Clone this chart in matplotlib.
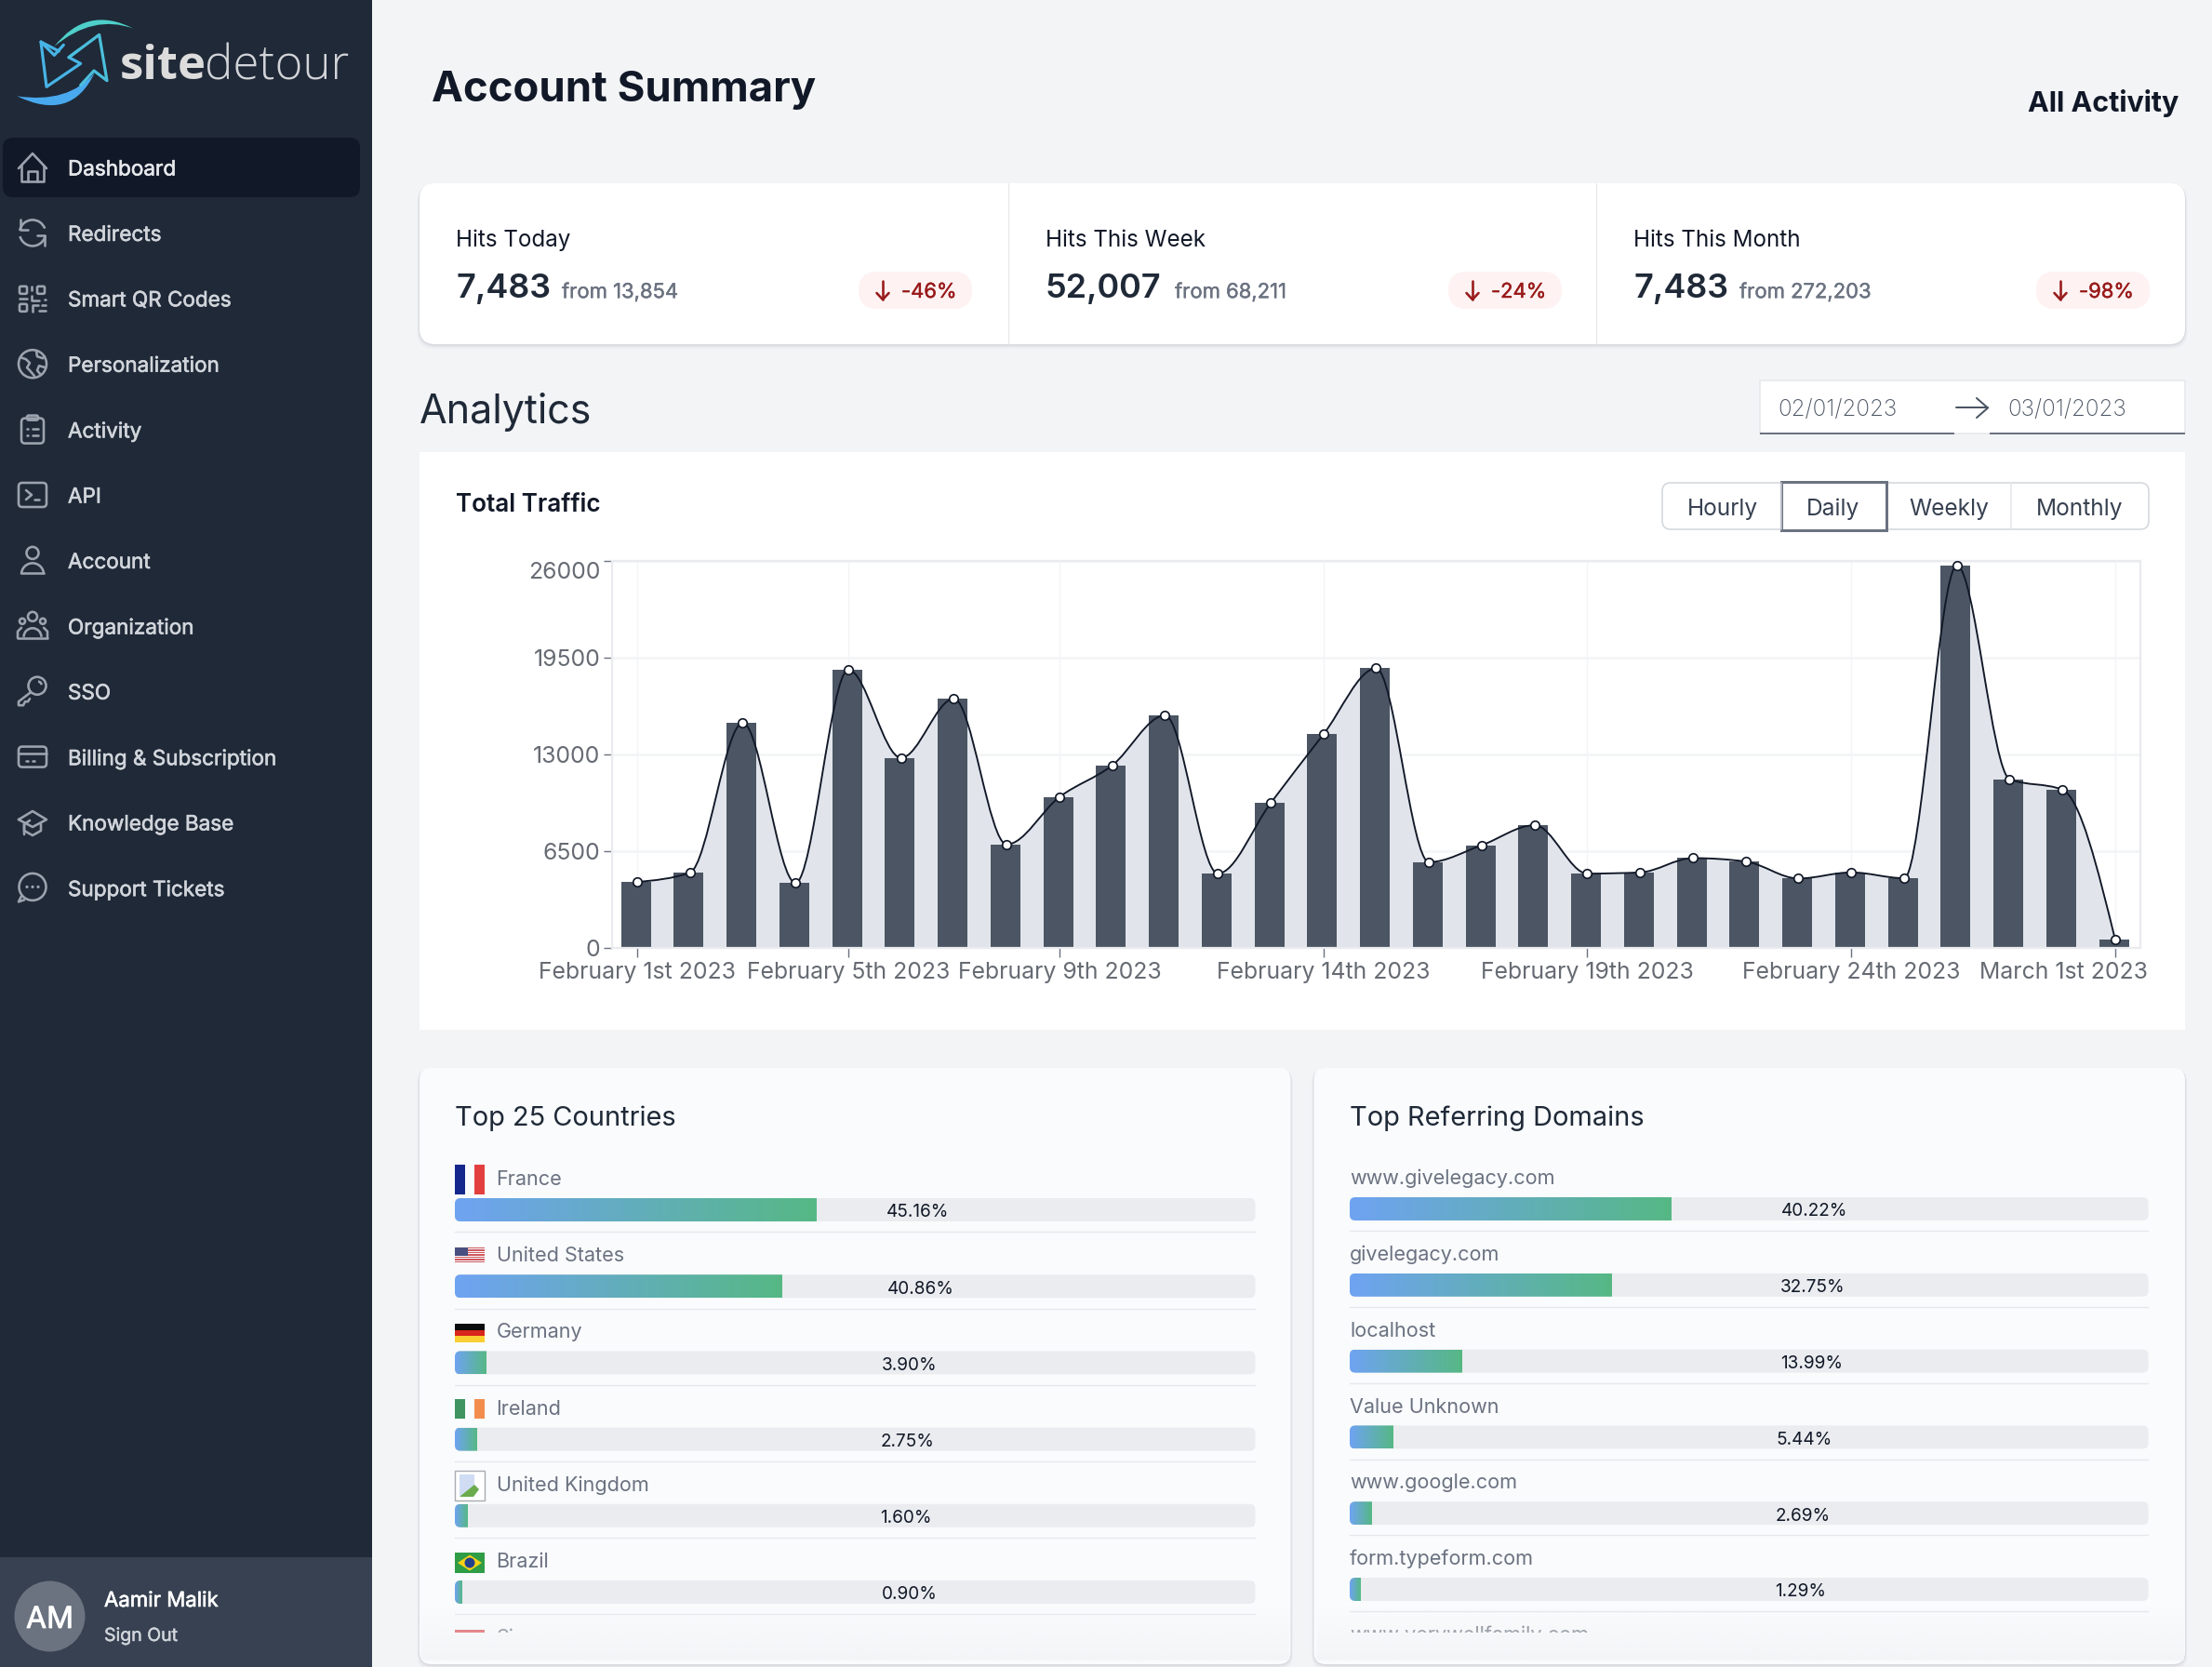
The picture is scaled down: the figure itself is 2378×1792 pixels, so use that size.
import numpy as np
import matplotlib
matplotlib.use("Agg")
import matplotlib.pyplot as plt
import matplotlib.patheffects as pe
from matplotlib.patches import FancyBboxPatch, PathPatch, Rectangle, Circle, Polygon, Arc
from matplotlib.path import Path
from matplotlib.transforms import ScaledTranslation

##data
days = list(range(29))
traffic = [4430, 5060, 15110, 4370, 18670, 12760, 16730, 6950, 10135, 12260, 15610, 4995, 9720, 14340, 18770,
           5760, 6900, 8240, 4990, 5070, 6030, 5800, 4660, 5070, 4680, 25670, 11330, 10620, 540]
y_ticks = [0, 6500, 13000, 19500, 26000]
x_tick_days = [0, 4, 8, 13, 18, 23, 28]
x_tick_labels = ["February 1st 2023", "February 5th 2023", "February 9th 2023", "February 14th 2023",
                 "February 19th 2023", "February 24th 2023", "March 1st 2023"]

nav_labels = ["Dashboard", "Redirects", "Smart QR Codes", "Personalization", "Activity", "API", "Account",
              "Organization", "SSO", "Billing & Subscription", "Knowledge Base", "Support Tickets"]

stat_titles = ["Hits Today", "Hits This Week", "Hits This Month"]
stat_values = ["7,483", "52,007", "7,483"]
stat_from = ["from 13,854", "from 68,211", "from 272,203"]
stat_change = ["-46%", "-24%", "-98%"]
tab_labels = ["Hourly", "Daily", "Weekly", "Monthly"]

countries = ["France", "United States", "Germany", "Ireland", "United Kingdom", "Brazil", "Singapore"]
country_pct = [45.16, 40.86, 3.90, 2.75, 1.60, 0.90]
domains = ["www.givelegacy.com", "givelegacy.com", "localhost", "Value Unknown", "www.google.com",
           "form.typeform.com", "www.verywellfamily.com"]
domain_pct = [40.22, 32.75, 13.99, 5.44, 2.69, 1.29]

#where the percent text sits on the track (0-100)
country_text_pos = [57.8, 58.2, 56.8, 56.6, 56.4, 56.8]
domain_text_pos = [58.2, 58.0, 57.8, 56.9, 56.8, 56.5]

##style
W, H = 2378, 1792
PX = 0.72  # one pixel in points at dpi 100
FONT = "Inter"
plt.rcParams["font.family"] = [FONT, "DejaVu Sans"]

SIDEBAR = "#1f2937"
MAIN_BG = "#f3f4f6"
PANEL = "#f9fbfd"
INK = "#111827"
GRAY = "#6b7280"


def fs(px):
    return px * PX


fig = plt.figure(figsize=(W / 100, H / 100), dpi=100, facecolor=MAIN_BG)
ui = fig.add_axes([0, 0, 1, 1], zorder=0)
ui.set_xlim(0, W)
ui.set_ylim(H, 0)
ui.axis("off")


def box(x0, y0, x1, y1, r=0, color="white", ec="none", lw=0, z=1, ax=ui, alpha=None):
    if r > 0:
        p = FancyBboxPatch((x0, y0), x1 - x0, y1 - y0, boxstyle="round,pad=0,rounding_size=%g" % r,
                           fc=color, ec=ec, lw=lw * PX, zorder=z, alpha=alpha)
    else:
        p = Rectangle((x0, y0), x1 - x0, y1 - y0, fc=color, ec=ec, lw=lw * PX, zorder=z, alpha=alpha)
    ax.add_patch(p)
    return p


def shadow(x0, y0, x1, y1, r):
    for k, a in zip([5, 3, 1.5], [0.025, 0.04, 0.05]):
        box(x0 - k * 0.5, y0 + 1, x1 + k * 0.5, y1 + k, r + 1, color="#111827", alpha=a, z=0.8)


def line(xs, ys, color, lw=1.0, z=3, ax=ui, cap="round"):
    ax.plot(xs, ys, color=color, lw=lw * PX, zorder=z, solid_capstyle=cap, solid_joinstyle="round")


def text(x, y, s, px, color=INK, weight="normal", ha="left", va="center", ax=ui, z=4, thick=0, **kw):
    t = ax.text(x, y, s, fontsize=fs(px), color=color, fontweight=weight, ha=ha, va=va, zorder=z, **kw)
    if thick:
        #no medium weight in the font, fatten the regular one a little
        t.set_path_effects([pe.withStroke(linewidth=thick, foreground=color)])
    return t


##sidebar
box(0, 0, 400, H, color=SIDEBAR)
box(0, 1674, 400, H, color="#374151", z=1.5)
box(3, 148, 387, 212, r=11, color="#111827", z=1.5)

#logo
TEAL = "#4fcfc9"
BLUE = "#49a9ee"
up = Path(np.array([(175, 150), (280, 15), (430, 92), (300, 45), (175, 150)]) / 3,
          [Path.MOVETO, Path.CURVE3, Path.CURVE3, Path.CURVE3, Path.CURVE3])
low = Path(np.array([(55, 310), (230, 395), (305, 235), (220, 335), (55, 310)]) / 3,
           [Path.MOVETO, Path.CURVE3, Path.CURVE3, Path.CURVE3, Path.CURVE3])
ui.add_patch(PathPatch(up, fc=TEAL, ec="none", zorder=3))
ui.add_patch(PathPatch(low, fc=BLUE, ec="none", zorder=3))
arrow_a = np.array([(190, 165), (132, 135), (150, 280), (260, 205), (222, 185), (255, 160)]) / 3
arrow_b = np.array([(222, 185), (320, 112), (345, 260), (303, 228), (260, 275)]) / 3
line(arrow_a[:, 0], arrow_a[:, 1], "#47b4e6", 3.2)
line(arrow_b[:, 0], arrow_b[:, 1], "#4bbfdc", 3.2)
line([132 / 3, 175 / 3, 205 / 3], [135 / 3, 178 / 3, 145 / 3], "#47b4e6", 3.2)
ui.text(129, 85, "site", fontsize=fs(51), color="#dcdcdc", fontweight="bold", family="Open Sans", va="baseline", zorder=4)
ui.text(220, 85, "detour", fontsize=fs(51), color="#d2d4d8", fontweight="light", family="Open Sans", va="baseline", zorder=4)

nav_y = [180 + 70.4 * i for i in range(len(nav_labels))]
for lab, y in zip(nav_labels, nav_y):
    text(73, y, lab, 22.5, color="#e5e7eb" if lab == "Dashboard" else "#d1d5db", va="center_baseline", thick=0.45)

ICON = "#9ca3af"
ICON_W = 2.6


def ic(xs, ys, cy, cx=35):
    line(np.array(xs) + cx, np.array(ys) + cy, ICON, ICON_W)


def ic_box(x0, y0, x1, y1, cy, r=4, cx=35):
    box(cx + x0, cy + y0, cx + x1, cy + y1, r=r, color="none", ec=ICON, lw=ICON_W, z=3)


def ic_circle(x, y, r, cy, cx=35):
    ui.add_patch(Circle((cx + x, cy + y), r, fc="none", ec=ICON, lw=ICON_W * PX, zorder=3))


def ic_arc(x, y, d, a0, a1, cy, cx=35):
    ui.add_patch(Arc((cx + x, cy + y), d, d, theta1=a0, theta2=a1, ec=ICON, lw=ICON_W * PX, zorder=3))


#house
c = nav_y[0]
ic([-15, 0, 15], [1, -15, 1], c)
ic([-12, -12, 12, 12], [-2, 15, 15, -2], c)
ic([-5, -5, 5, 5], [15, 4, 4, 15], c)
#refresh (y axis is flipped so arcs run the other way)
c = nav_y[1]
ic_arc(0, 0, 28, 190, 340, c)
ic_arc(0, 0, 28, 10, 165, c)
ic([-13, -13, -5], [-14, -3, -3], c)
ic([13, 13, 5], [14, 3, 3], c)
#qr
c = nav_y[2]
for dx, dy in [(-10, -9), (9, -9), (-10, 10)]:
    ic_box(dx - 4, dy - 4, dx + 4, dy + 4, c, r=1.5)
ic([-14, -6], [0, 0], c)
ic([-1, -1], [-13, -9], c)
ic([-1, -1, 7], [-3, 2, 2], c)
ic([0, 0, 6], [14, 7, 7], c)
ic([7, 14], [13, 13], c)
ic([13, 14], [1, 1], c)
ic([10, 14], [7, 7], c)
#globe
c = nav_y[3]
ic_circle(0, 0, 15, c)
ic([-13, -7, -3, -6, -3, 2], [-7, -5, -1, 4, 7, 13], c)
ic([4, 5, 11, 13], [-14, -8, -6, -8], c)
ic([14, 7, 5, 9], [4, 2, 7, 12], c)
#clipboard
c = nav_y[4]
ic_box(-12, -12, 12, 15, c, r=4)
ic_box(-6, -15, 6, -10, c, r=2)
ic([-6, -5], [-1, -1], c)
ic([-6, -5], [6, 6], c)
ic([0, 6], [-1, -1], c)
ic([0, 6], [6, 6], c)
#terminal
c = nav_y[5]
ic_box(-15, -13, 15, 13, c, r=4)
ic([-7, -1, -7], [-5, 0, 5], c)
ic([2, 7], [5, 5], c)
#person
c = nav_y[6]
ic_circle(0, -8, 6.5, c)
ic_arc(0, 15, 24, 180, 360, c)
ic([-12, 12], [14, 14], c)
#people
c = nav_y[7]
ic_circle(0, -10, 5, c)
ic_circle(-11, -5, 3, c)
ic_circle(11, -5, 3, c)
ic_arc(0, 12, 19, 180, 360, c)
ic([-16, 16], [13, 13], c)
ic([-16, -16, -12], [13, 6, 2], c)
ic([16, 16, 12], [13, 6, 2], c)
#key
c = nav_y[8]
ic_circle(5, -6, 9.5, c)
ic([-2, -15, -15, -10, -8, -5, -3], [1, 11, 15, 15, 11, 11, 8], c)
ic_arc(6, -7, 7, 270, 360, c)
#card
c = nav_y[9]
ic_box(-15, -11, 15, 11, c, r=4)
ic([-15, 15], [-4, -4], c)
ic([-7, -5], [4, 4], c)
ic([0, 2], [4, 4], c)
#grad cap
c = nav_y[10]
ic([-15, 0, 15, 0, -15], [-3, -12, -3, 5, -3], c)
ic([-9, -9, 0, 9, 9], [2, 9, 14, 9, 2], c)
ic([-3, -9, -9], [-2, 2, 13], c)
#chat
c = nav_y[11]
ic_circle(0, -1, 14.5, c)
ic([-12, -15, -9], [9, 15, 13], c)
for dx in [-6, 0, 6]:
    ui.add_patch(Circle((35 + dx, c - 1), 1.6, fc=ICON, ec="none", zorder=3))

#user block
ui.add_patch(Circle((53.5, 1737.5), 38, fc="#6b7280", ec="none", zorder=3))
text(53.5, 1738, "AM", 32, color="white", ha="center", va="center_baseline", thick=0.6)
text(112, 1719, "Aamir Malik", 22.2, color="white", va="center_baseline", thick=0.45)
text(112, 1757, "Sign Out", 19.5, color="#d1d5db", va="center_baseline", thick=0.3)

##header
text(464, 92, "Account Summary", 45.5, weight="bold", va="center_baseline")
text(2342, 108, "All Activity", 30.5, weight="bold", ha="right", va="center_baseline")

##stat cards
shadow(451, 197, 2349, 370, 17)
box(451, 197, 2349, 370, r=17, color="white", z=1)
line([1083.5, 1083.5], [197, 370], "#e5e7eb", 1.2)
line([1716, 1716], [197, 370], "#e5e7eb", 1.2)
stat_x = [490, 1124, 1756]
from_x = [604, 1263, 1870]
badge_x = [923, 1557, 2189]
for i in range(3):
    text(stat_x[i], 256, stat_titles[i], 24.2, va="center_baseline")
    text(stat_x[i], 307, stat_values[i], 36, color="#1f2937", weight="semibold", va="center_baseline")
    text(from_x[i], 312, stat_from[i], 22, color=GRAY, va="center_baseline", thick=0.3)
    bx = badge_x[i]
    box(bx, 292, bx + 122, 332, r=20, color="#fef2f2", z=2)
    ax_, ay = bx + 26, 312
    line([ax_, ax_], [ay - 10, ay + 10], "#991b1b", 2.6)
    line([ax_ - 6.5, ax_, ax_ + 6.5], [ay + 3, ay + 10, ay + 3], "#991b1b", 2.6)
    text(bx + 46, ay, stat_change[i], 22, color="#991b1b", va="center_baseline", thick=0.3)

##analytics header
text(451, 438, "Analytics", 43, color="#1f2937", va="center_baseline")
box(1892, 409, 2349, 466, color="white", ec="#e5e7eb", lw=1.5)
line([1892, 2101], [466, 466], "#6b7280", 2, cap="butt")
line([2139, 2349], [466, 466], "#6b7280", 2, cap="butt")
text(1911.5, 438, "02/01/2023", 24.2, color="#4b5563", weight="light", va="center_baseline")
text(2158, 438, "03/01/2023", 24.2, color="#4b5563", weight="light", va="center_baseline")
line([2103, 2137], [438.5, 438.5], "#4b5563", 2)
line([2125, 2137, 2125], [428, 438.5, 449], "#4b5563", 2)

##chart card
box(451, 486, 2349, 1107, color="white")
text(490, 540, "Total Traffic", 26.2, weight="semibold", va="center_baseline")
box(1787, 519, 2310, 569, r=9, color="white", ec="#d1d5db", lw=1.5, z=2)
line([1915, 1915], [519, 569], "#d1d5db", 1.5)
line([2162, 2162], [519, 569], "#e5e7eb", 1.5)
box(1915, 518, 2027.5, 570, color="white", ec="#6b7280", lw=3, z=2.5)
for lab, tx in zip(tab_labels, [1852, 1971, 2095, 2236]):
    text(tx, 545, lab, 24.5, color="#374151", ha="center", va="center_baseline")

PL, PR, PT, PB = 657.7, 2301.0, 602.7, 1019.0
chart = fig.add_axes([PL / W, 1 - PB / H, (PR - PL) / W, (PB - PT) / H], zorder=2)
chart.patch.set_alpha(0)
DAY_PX = 56.75
chart.set_xlim((PL - 685) / DAY_PX, (PR - 685) / DAY_PX)
chart.set_ylim(0, 26000)


def monotone_path(x, y, close_to=None):
    #same curve type the chart library uses (monotone cubic between points)
    x = np.asarray(x, float)
    y = np.asarray(y, float)
    h = np.diff(x)
    s = np.diff(y) / h
    t = np.zeros(len(x))
    for i in range(1, len(x) - 1):
        if s[i - 1] * s[i] > 0:
            p = (s[i - 1] * h[i] + s[i] * h[i - 1]) / (h[i - 1] + h[i])
            t[i] = (np.sign(s[i - 1]) + np.sign(s[i])) * min(abs(s[i - 1]), abs(s[i]), 0.5 * abs(p))
    t[0] = (3 * s[0] - t[1]) / 2
    t[-1] = (3 * s[-1] - t[-2]) / 2
    verts = [(x[0], y[0])]
    codes = [Path.MOVETO]
    for i in range(len(x) - 1):
        d = h[i] / 3
        verts += [(x[i] + d, y[i] + d * t[i]), (x[i + 1] - d, y[i + 1] - d * t[i + 1]), (x[i + 1], y[i + 1])]
        codes += [Path.CURVE4] * 3
    if close_to is not None:
        verts += [(x[-1], close_to), (x[0], close_to), (x[0], y[0])]
        codes += [Path.LINETO, Path.LINETO, Path.CLOSEPOLY]
    return Path(verts, codes)


chart.add_patch(PathPatch(monotone_path(days, traffic, 0), fc="#e1e5eb", ec="none", zorder=1.5))
chart.bar(np.array(days) - 0.025, traffic, width=0.565, color="#4b5563", zorder=2)
chart.add_patch(PathPatch(monotone_path(days, traffic), fc="none", ec="#111827", lw=1.9 * PX, zorder=3))
chart.plot(days, traffic, ls="none", marker="o", ms=9.5 * PX, mfc="white", mec="#111827", mew=1.7 * PX, zorder=4)

chart.set_yticks(y_ticks)
chart.set_xticks(x_tick_days)
chart.set_xticklabels(x_tick_labels)
chart.grid(True, axis="y", color="#f3f4f6", lw=2.6 * PX, zorder=1)
chart.grid(True, axis="x", color="#f3f4f6", lw=1.4 * PX, zorder=1)
chart.set_axisbelow(True)
for sp in chart.spines.values():
    sp.set_color("#e9ebee")
    sp.set_linewidth(2.2 * PX)
chart.tick_params(axis="both", length=9 * PX, width=1.4 * PX, color="#6b7280", labelcolor="#666b73",
                  labelsize=fs(24.8), pad=2.5)
chart.tick_params(axis="x", length=10 * PX, pad=3.5)
for lab in chart.get_xticklabels():
    lab.set_va("top")
#first y label and last x label get pushed inside the canvas
ylabs = chart.get_yticklabels()
ylabs[-1].set_transform(ylabs[-1].get_transform() + ScaledTranslation(0, -10 / 100, fig.dpi_scale_trans))
xlabs = chart.get_xticklabels()
xlabs[-1].set_ha("right")
xlabs[-1].set_transform(xlabs[-1].get_transform() + ScaledTranslation(35 / 100, 0, fig.dpi_scale_trans))


##bottom panels
def flag_stripes(x0, y0, y1, cols):
    w = 32.0 / len(cols)
    for k, col in enumerate(cols):
        box(x0 + k * w, y0, x0 + (k + 1) * w + 0.3, y1, color=col, z=3)


def flag_rows(x0, y0, y1, cols):
    h = (y1 - y0) / len(cols)
    for k, col in enumerate(cols):
        box(x0, y0 + k * h, x0 + 32, y0 + (k + 1) * h + 0.2, color=col, z=3)


def bar_panel(x0, x1, top, bottom, title, tx0, tx1, row0, step, names, pct, text_pos, label_x_px):
    shadow(x0, top, x1, bottom, 13)
    box(x0, top, x1, bottom, r=13, color=PANEL, z=1)
    text(tx0, top + 51, title, 29, color="#1f2937", va="center_baseline")
    clip_y0, clip_y1 = row0 - 70, 1755
    pa = fig.add_axes([tx0 / W, 1 - clip_y1 / H, (tx1 - tx0) / W, (clip_y1 - clip_y0) / H], zorder=3)
    pa.patch.set_alpha(0)
    pa.axis("off")
    pa.set_xlim(0, 100)
    pa.set_ylim((clip_y1 - row0) / step, (clip_y0 - row0) / step)
    bar_h = 25.0 / step
    rx = 6 / (tx1 - tx0) * 100
    ry = 6 / step
    grad = np.linspace(0, 1, 128)[None, :, None]
    c0 = np.array([0x6f, 0xa3, 0xf2]) / 255
    c1 = np.array([0x56, 0xb8, 0x85]) / 255
    img = c0 * (1 - grad) + c1 * grad
    for i, name in enumerate(names):
        pa.text((label_x_px - tx0) / (tx1 - tx0) * 100, i - 0.42, name, fontsize=fs(21.6), color="#6b7280",
                va="center_baseline", clip_on=True)
        if i >= len(pct):
            continue
        track = FancyBboxPatch((0, i - bar_h / 2), 100, bar_h, boxstyle="round,pad=0,rounding_size=%g" % rx,
                               mutation_aspect=ry / rx, fc="#eaecef", ec="none", zorder=1)
        pa.add_patch(track)
        im = pa.imshow(img, extent=[0, pct[i], i + bar_h / 2, i - bar_h / 2], aspect="auto", zorder=2)
        im.set_clip_path(track)
        pa.text(text_pos[i], i + 0.012, "%.2f%%" % pct[i], fontsize=fs(19), color="#111827", ha="center",
                va="center_baseline", zorder=3)
        pa.plot([0, 100], [i + 0.29, i + 0.29], color="#e5e7eb", lw=1.4 * PX, zorder=1)
    pa.set_xlim(0, 100)
    pa.set_ylim((clip_y1 - row0) / step, (clip_y0 - row0) / step)
    return pa


bar_panel(451, 1387.5, 1148, 1789, "Top 25 Countries", 489, 1349.5, 1300.5, 82.2,
          countries, country_pct, country_text_pos, 533.5)
bar_panel(1412.5, 2349, 1148, 1789, "Top Referring Domains", 1451, 2309.5, 1299.5, 81.8,
          domains, domain_pct, domain_text_pos, 1451)

#flags
FX = 489
flag_stripes(FX, 1252, 1284, ["#14278c", PANEL, "#e2403f"])
for k in range(7):
    box(FX, 1341 + k * 2.5, FX + 32, 1342.3 + k * 2.5, color="#cf5a5e", z=3)
box(FX, 1341, FX + 14, 1350.5, color="#4a4f80", z=3.2)
flag_rows(FX, 1423, 1443, ["#0b0b0b", "#d8261c", "#fbce33"])
flag_stripes(FX, 1504, 1525.5, ["#3f9460", PANEL, "#f28d4e"])
#broken image icon for the UK row
box(FX, 1581, FX + 32, 1613, color="white", ec="#a8acb0", lw=1.4, z=3)
box(FX + 5, 1585, FX + 21, 1608, color="#cfdcf3", z=3.1)
ui.add_patch(Polygon([(FX + 5, 1609), (FX + 21, 1596), (FX + 26, 1601), (FX + 20, 1609)], fc="#6bab4d", ec="none", zorder=3.2))
box(FX, 1669, FX + 32, 1691, color="#2f9c46", z=3)
ui.add_patch(Polygon([(FX + 3, 1680), (FX + 16, 1671.5), (FX + 29, 1680), (FX + 16, 1688.5)], fc="#f7d117", ec="none", zorder=3.1))
ui.add_patch(Circle((FX + 16, 1680), 5.5, fc="#23408f", ec="none", zorder=3.2))
box(FX, 1752, FX + 32, 1755, color="#d8454a", z=3)

#bottom fade over both panels
ov = fig.add_axes([0, 0, 1, 1], zorder=5)
ov.patch.set_alpha(0)
ov.axis("off")
ov.set_xlim(0, W)
ov.set_ylim(H, 0)
fade = np.ones((64, 1, 4))
fade[:, :, :3] = np.array([0xf3, 0xf4, 0xf6]) / 255
fade[:, 0, 3] = np.linspace(0, 0.85, 64)
for x0, x1 in [(453, 1385.5), (1414.5, 2347)]:
    ov.imshow(fade, extent=[x0, x1, 1785, 1727], aspect="auto", zorder=1)
ov.set_xlim(0, W)
ov.set_ylim(H, 0)

fig.savefig("out.png", dpi=100, facecolor=MAIN_BG)
